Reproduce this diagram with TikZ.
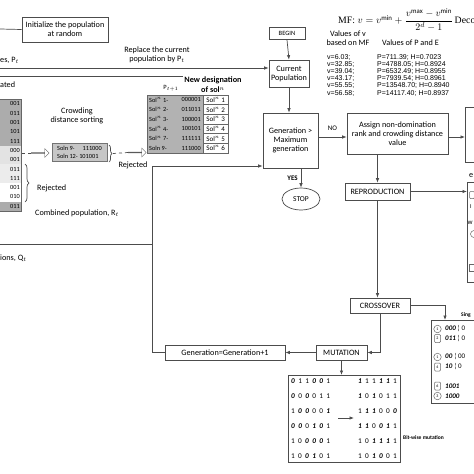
\documentclass[tikz,border=0pt]{standalone}
\usepackage{fontspec}
\setmainfont{Carlito}
\newfontfamily\arialfont{Liberation Sans}
\newfontfamily\timesfont{Liberation Serif}
\usetikzlibrary{positioning,arrows.meta,shapes.geometric,shapes.arrows,decorations.pathreplacing}
\newcommand{\mb}[1]{\textbf{\textit{#1}}}
\newcommand{\bitgap}{\hspace{3.3pt}}
\tikzset{
  procbox/.style={rectangle, draw=black!70, line width=0.7pt, fill=white, inner sep=1pt,
                  font=\fontsize{8.2}{9}\selectfont, align=center},
  fwd/.style={-{Latex[length=4.5pt,width=3.5pt]}, draw=black!70, line width=0.7pt},
  plainline/.style={draw=black!70, line width=0.7pt},
  note/.style={font=\fontsize{8.2}{9}\selectfont, align=center, inner sep=0pt},
  small/.style={font=\fontsize{6.3}{7}\selectfont, inner sep=0pt},
  numtext/.style={font=\arialfont\fontsize{7}{8}\selectfont, inner sep=0pt, anchor=west},
  hollowarrow/.style={single arrow, draw=black!65, fill=white, minimum height=18pt, minimum width=9pt,
                      single arrow head extend=2pt, inner sep=0pt},
  tinybrace/.style={decorate, decoration={brace, amplitude=3pt}, draw=black!70, line width=0.7pt},
  icon/.style={draw=black!60, line width=0.5pt, inner sep=0pt, font=\fontsize{4}{4}\selectfont},
}

\begin{document}
\begin{tikzpicture}[x=1pt, y=-1pt]
  \fill[white] (0,0) rectangle (474,474);
  \useasboundingbox (0,0) rectangle (474,474);

  % main flow
  \node[procbox, minimum width=86pt, minimum height=25pt] (init) at (65,29.5) {Initialize the population\\at random};
  \node[procbox, minimum width=36pt, minimum height=12pt, font=\fontsize{6.5}{7}\selectfont] (begin) at (287,33.5) {BEGIN};
  \node[procbox, minimum width=40pt, minimum height=27pt] (curpop) at (289,73.5) {Current\\Population};
  \node[procbox, minimum width=55pt, minimum height=55pt] (gen) at (290.5,140.5) {Generation >\\Maximum\\generation};
  \node[procbox, minimum width=101pt, minimum height=41pt] (assign) at (397.5,133.5) {Assign non-domination\\rank and crowding distance\\value};
  \node[procbox, minimum width=65pt, minimum height=17pt] (repro) at (377.5,191.5) {REPRODUCTION};
  \node[procbox, minimum width=60pt, minimum height=15pt] (cross) at (380,305.5) {CROSSOVER};
  \node[procbox, minimum width=51pt, minimum height=15pt] (mut) at (341.5,352.5) {MUTATION};
  \node[procbox, minimum width=120pt, minimum height=15pt] (geninc) at (225,352.5) {Generation=Generation+1};
  \node[ellipse, draw=black!70, line width=0.7pt, minimum width=38pt, minimum height=22pt, inner sep=0pt,
        font=\fontsize{7.5}{8}\selectfont] (stop) at (301,199) {STOP};

  % boxes at the right edge
  \node[procbox, anchor=north west, minimum width=20pt, minimum height=55pt] (selbox) at (465,107) {};
  \node[procbox, anchor=north west, minimum width=20pt, minimum height=100pt] (tourbox) at (467,182) {};
  \node[procbox, anchor=north west, minimum width=50pt, minimum height=83pt] (xbox) at (431,320) {};
  \node[procbox, anchor=north west, minimum width=112pt, minimum height=87pt] (mutbox) at (288,375) {};

  % named points
  \coordinate (ptin) at (0,29);
  \coordinate (replin) at (0,68);
  \coordinate (noy) at (0,137);
  \coordinate (loop) at (152,166);
  \coordinate (qt) at (0,244);
  \coordinate (xtop) at (445,320);
  \coordinate (mutarrowL) at (338,418);
  \coordinate (mutarrowR) at (354,418);

  % connectors
  \draw[plainline] (ptin) -- (init.west);
  \draw[fwd] (replin) -- (curpop.west |- replin);
  \draw[plainline] (0,76) -- (183,76);
  \draw[fwd] (begin.south) -- (curpop.north);
  \draw[fwd] (curpop.south) -- (curpop.south |- gen.north);
  \draw[fwd] (gen.east |- noy) -- (assign.west |- noy) node[note, midway, above=6pt, font=\fontsize{7}{8}\selectfont] (nolab) {NO};
  \draw[fwd] (assign.east |- noy) -- (selbox.west |- noy);
  \draw[fwd] (stop.north |- gen.south) -- (stop.north) node[note, midway, left=3pt, font=\fontsize{7}{8}\selectfont\bfseries] (yeslab) {YES};
  \draw[fwd] (repro.north |- assign.south) -- (repro.north);
  \draw[fwd] (repro.east) -- (tourbox.west |- repro.east);
  \draw[fwd] (repro.south) -- (repro.south |- cross.north);
  \draw[fwd] (cross.east) -| (xtop);
  \draw[fwd] (cross.south) |- (mut.east);
  \draw[fwd] (mut.west) -- (geninc.east);
  \draw[fwd] (mut.south) -- (mut.south |- mutbox.north);
  \draw[fwd] (geninc.west) -| (loop) -- (gen.west |- loop);
  \draw[plainline] (qt) -- (loop |- qt);
  \draw[fwd] (mutarrowL) -- (mutarrowR);

  % labels
  \node[note, anchor=west] (ptlab) at (0,60) {es, P$_t$};
  \node[note] (replab) at (157,55) {Replace the current\\population by P$_t$};
  \node[note, anchor=west] (atedlab) at (0,85) {ated};
  \node[note, font=\fontsize{6.5}{7}\selectfont] (plab) at (171,88) {P$_{t+1}$};
  \node[note, font=\fontsize{8.2}{10}\selectfont\bfseries] (newdes) at (213,85) {New designation\\of sol$^n$};
  \node[note] (crowd) at (77,116) {Crowding\\distance sorting};
  \node[note] (rej1) at (133,165) {Rejected};
  \node[note, anchor=west] (rej2) at (37,188) {Rejected};
  \node[note, anchor=west] (comb) at (35,213) {Combined population, R$_t$};
  \node[note, anchor=west] (qtlab) at (0,258) {ions, Q$_t$};

  % left table (combined population)
  \foreach \t/\s [count=\i] in {001/65,011/65,001/65,101/65,111/65,000/22,001/22,011/15,111/15,001/0,010/0,011/65}{
    \fill[gray!\s] (-5,{99+9.33*(\i-1)}) rectangle (21,{99+9.33*\i});
    \node[small, anchor=east] (rt\i) at (20,{99+9.33*(\i-0.5)}) {\t};
  }
  \draw[draw=black!60, line width=0.6pt] (-5,99) rectangle (21,211);
  \coordinate (tabedge) at (22,153);
  \node[hollowarrow] (harrow1) at (40,153) {};
  \draw[plainline, dashed] (tabedge) -- (harrow1.west);
  \draw[tinybrace, decoration={brace, amplitude=4pt}] (25,164) -- (25,202);

  % crowding distance sorting
  \node[draw=black!55, fill=gray!45, minimum width=55pt, minimum height=18pt, inner sep=1pt, align=left,
        font=\fontsize{6.3}{7.5}\selectfont] (soln) at (79.5,152.5) {Soln 9-\hspace{8pt}111000\\Soln 12- 101001};
  \draw[tinybrace] (109,145) -- (109,162);
  \coordinate (bracetip) at (113,153.5);
  \node[hollowarrow] (harrow2) at (137,152.5) {};
  \draw[plainline, dashed] (bracetip) -- (harrow2.west);

  % new population P_t+1
  \fill[gray!60] (147,95) rectangle (203,153);
  \draw[draw=black!60, line width=0.6pt] (147,95) rectangle (203,153);
  \foreach \a/\b [count=\i] in {Sol$^n$ 1-/000001,Sol$^n$ 2-/011011,Sol$^n$ 3-/100001,Sol$^n$ 4-/100101,Sol$^n$ 7-/111111,Soln 9-/111000}{
    \node[small, anchor=west] (pa\i) at (149,{95+9.67*(\i-0.5)}) {\a};
    \node[small, anchor=east] (pb\i) at (201,{95+9.67*(\i-0.5)}) {\b};
    \node[draw=black!60, line width=0.5pt, fill=white, minimum width=25pt, minimum height=9.67pt, inner sep=0pt,
          anchor=west, font=\fontsize{7}{8}\selectfont] (nd\i) at (203,{95+9.67*(\i-0.5)}) {Sol$^n$ \i};
  }

  % formula and values
  \node[anchor=west, inner sep=0pt, font=\timesfont\fontsize{9.8}{10}\selectfont] (mf) at (338,20)
    {MF:\ $v=v^{\min}+\displaystyle\frac{v^{\max}-v^{\min}}{2^{d}-1}$\,Deco};
  \node[note] (vhead) at (348,38) {Values of v\\based on MF};
  \node[note, anchor=west] (phead) at (382,43) {Values of P and E};
  \foreach \v [count=\i] in {6.03,32.85,39.04,43.17,55.55,56.58}
    \node[numtext] (v\i) at (327,{50+7.2*\i}) {v=\v;};
  \foreach \p/\h [count=\i] in {711.39/0.7023,4788.05/0.8924,6532.49/0.8955,7939.54/0.8961,13548.70/0.8940,14117.40/0.8937}
    \node[numtext] (pv\i) at (377,{50+7.2*\i}) {P=\p; H=\h};

  % partly visible selection boxes
  \node[note, anchor=west] (elab) at (469,176) {e};
  \node[icon, rounded corners=1pt, minimum width=5pt, minimum height=7pt] (ti1) at (472,195) {};
  \node[note, anchor=west, font=\fontsize{6}{6}\selectfont] (ti2) at (470,207) {I};
  \node[note, anchor=west, font=\fontsize{7}{8}\selectfont] (ti3) at (467.5,223) {w};
  \node[icon, circle, minimum size=7pt] (ti4) at (474,234) {};
  \node[icon, minimum width=5pt, minimum height=7pt] (ti5) at (472,268) {};

  % crossover
  \node[note, anchor=west, font=\fontsize{5.5}{6}\selectfont\bfseries] (singlab) at (461,315) {Sing};
  \node[icon, circle, minimum size=7.5pt] (xc1) at (437.5,329) {1};
  \node[icon, rounded corners=1pt, minimum width=6pt, minimum height=8pt] (xc2) at (437.5,338.5) {2};
  \node[icon, circle, minimum size=7.5pt] (xc3) at (437.5,357) {1};
  \node[icon, rounded corners=1pt, minimum width=6pt, minimum height=8pt] (xc4) at (437.5,367) {4};
  \node[icon, rounded corners=1pt, minimum width=6pt, minimum height=8pt] (xc5) at (437.5,386) {6};
  \node[icon, circle, minimum size=7.5pt] (xc6) at (437.5,396) {3};
  \foreach \n/\b/\y in {1/{\mb{000}\,¦\,0}/329,2/{\mb{011}\,¦\,0}/338.5,3/{\mb{00}\,¦\,00}/357,4/{\mb{10}\,¦\,0}/367,5/{\mb{1001}}/386,6/{\mb{1000}}/396}
    \node[small, anchor=west, font=\fontsize{7}{8}\selectfont] (xb\n) at (445,\y) {\b};

  % mutation
  \foreach \l/\r [count=\i] in {
    {\mb{0}\bitgap1\bitgap1\bitgap\mb{0}\bitgap\mb{0}\bitgap1}/{\mb{1}\bitgap1\bitgap1\bitgap\mb{1}\bitgap\mb{1}\bitgap1},
    {\mb{0}\bitgap0\bitgap\mb{0}\bitgap0\bitgap1\bitgap1}/{\mb{1}\bitgap0\bitgap\mb{1}\bitgap0\bitgap1\bitgap1},
    {1\bitgap\mb{0}\bitgap\mb{0}\bitgap0\bitgap0\bitgap\mb{1}}/{1\bitgap\mb{1}\bitgap\mb{1}\bitgap0\bitgap0\bitgap\mb{0}},
    {\mb{0}\bitgap\mb{0}\bitgap0\bitgap\mb{1}\bitgap\mb{0}\bitgap1}/{\mb{1}\bitgap\mb{1}\bitgap0\bitgap\mb{0}\bitgap\mb{1}\bitgap1},
    {1\bitgap0\bitgap\mb{0}\bitgap\mb{0}\bitgap\mb{0}\bitgap1}/{1\bitgap0\bitgap\mb{1}\bitgap\mb{1}\bitgap\mb{1}\bitgap1},
    {1\bitgap0\bitgap\mb{0}\bitgap\mb{1}\bitgap0\bitgap1}/{1\bitgap0\bitgap\mb{1}\bitgap\mb{0}\bitgap0\bitgap1}}{
    \node[small, anchor=west, font=\fontsize{7.3}{8}\selectfont] (ml\i) at (291,{366+15*\i}) {\l};
    \node[small, anchor=east, font=\fontsize{7.3}{8}\selectfont] (mr\i) at (397,{366+15*\i}) {\r};
  }
  \node[anchor=west, inner sep=0pt, font=\fontsize{5.5}{6}\selectfont\bfseries] (bwlab) at (403,438) {Bit-wise mutation};
\end{tikzpicture}
\end{document}
